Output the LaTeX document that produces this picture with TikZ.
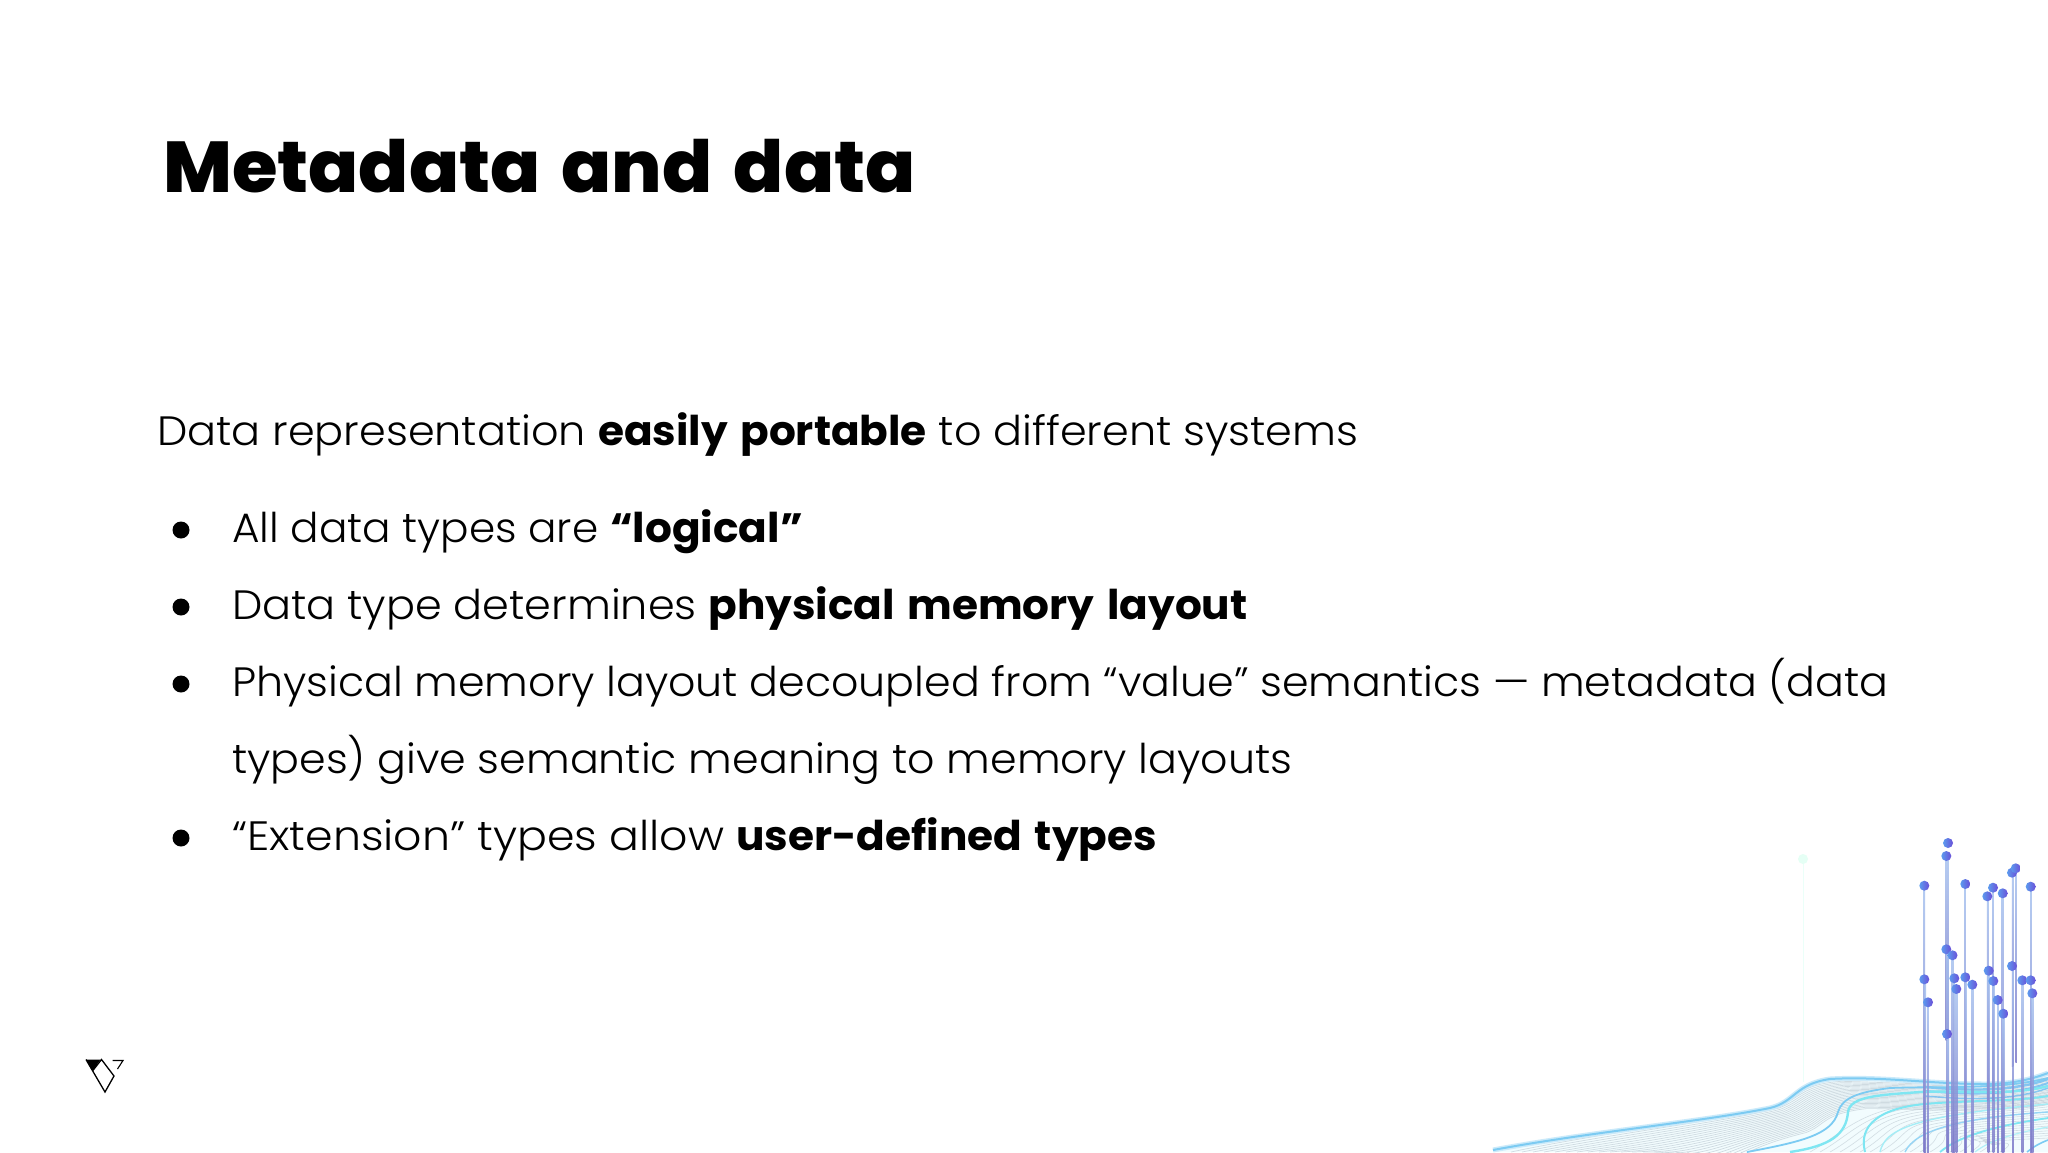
\documentclass[tikz,border=0pt]{standalone}
\usepackage{fontspec}
\usepackage{graphicx}
\setmainfont{Poppins}[UprightFont=* Light,BoldFont=* Bold,UprightFeatures={FakeStretch=1.048},BoldFeatures={FakeStretch=1.03,WordSpace=1.4}]
\newfontfamily\titlefont{Poppins ExtraBold}[FakeStretch=1.025,WordSpace=1.5]
\definecolor{wavesky}{HTML}{7CCBF2}
\definecolor{waveblue}{HTML}{5FB8F4}
\definecolor{wavecyan}{HTML}{7FE6F2}
\definecolor{wavegrey}{HTML}{C4D0D8}
\definecolor{ballleft}{HTML}{5C9BEE}
\definecolor{ballright}{HTML}{6A4FD8}
\definecolor{pintop}{HTML}{A9C4F0}
\definecolor{pinlow}{HTML}{7C78C8}
\tikzset{
  x=1pt,y=-1pt,
  bodytext/.style={anchor=base west,inner sep=0pt,font=\fontsize{41}{41}\selectfont,text=black},
  bulletmark/.style={circle,fill=black,inner sep=0pt,minimum size=17pt},
  titletext/.style={anchor=base west,inner sep=0pt,font=\fontsize{72}{72}\titlefont,text=black}
}
\newcommand{\fitrun}[2]{\scalebox{#1}[1]{#2}}
\newcommand{\pinball}[2]{\shade[left color=ballleft,right color=ballright] (#1,#2) circle (5pt);}
\newcommand{\pinline}[4]{\shade[top color=pintop,bottom color=pinlow,opacity=.85] ({#1-#4/2},#2) rectangle ({#1+#4/2},#3);}
\begin{document}
\begin{tikzpicture}
\useasboundingbox (0,0) rectangle (2048,1152);
\fill[white] (0,0) rectangle (2048,1152);
\node[titletext] (title) at (163,192) {Metadata and data};
\node[bodytext] (intro) at (157,445) {Data representation \textbf{easily portable} to different systems};
\node[bulletmark] (b1) at (181,530) {};
\node[bulletmark] (b2) at (181,607) {};
\node[bulletmark] (b3) at (181,684) {};
\node[bulletmark] (b4) at (181,838) {};
\node[bodytext] (t1) at (232,542) {\fitrun{0.982}{All data types are }\textbf{“logical”}};
\node[bodytext] (t2) at (232,619) {Data type determines \textbf{physical memory layout}};
\node[bodytext] (t3) at (232,696) {\fitrun{0.9945}{Physical memory layout decoupled from “value” semantics — metadata (data}};
\node[bodytext] (t3b) at (232,773) {\fitrun{0.995}{types) give semantic meaning to memory layouts}};
\node[bodytext] (t4) at (232,850) {\fitrun{1.03}{“Extension” types allow }\textbf{user-defined types}};
% logo
\fill[black] (86,1059.5) -- (100.5,1059.5) -- (92.5,1071) -- cycle;
\draw[black,line width=1.3pt,line join=miter] (86,1059.5) -- (105,1092) -- (114,1076) -- (101.5,1059.5) -- (92.5,1071);
\draw[black,line width=1.1pt] (112.5,1060.5) -- (123,1060.5) -- (117.5,1069);
% faint pin
\draw[green!30!cyan!8,line width=1pt] (1803,860) -- (1803,1082);
\fill[green!40!cyan!10] (1803,859) circle (5pt);
% soft fill under the wave
\fill[wavecyan!10] (1493,1152) .. controls (1590,1132) and (1700,1122) .. (1770,1108)
  .. controls (1795,1102) and (1795,1084) .. (1830,1079)
  .. controls (1880,1076) and (1930,1084) .. (1985,1084)
  .. controls (2010,1084) and (2030,1080) .. (2048,1073) -- (2048,1152) -- cycle;
% waves: grey contour family
\foreach \i in {1,...,22}{
  \draw[wavegrey,line width=0.7pt,opacity=.75]
    (1500+11*\i,1152) .. controls (1600+6*\i,{1130+1.8*\i}) and (1730,{1116+1.6*\i}) .. (1775+1.4*\i,{1104+1.3*\i})
    .. controls (1800+1.2*\i,{1094+1.4*\i}) and (1800+1*\i,{1083+1.4*\i}) .. (1840+1.2*\i,{1080+1.3*\i})
    .. controls (1920,{1082+1.2*\i}) and (1990,{1088+1.2*\i}) .. (2048,{1076+1.3*\i});
}
% waves: bottom grey contours on the right
\foreach \i in {1,...,20}{
  \draw[wavegrey,line width=0.6pt,opacity=.7]
    (1800+10*\i,1152) .. controls (1830+10*\i,{1135}) and (1850+6*\i,{1112+1.8*\i}) .. (1900+5*\i,{1104+2*\i})
    .. controls (1960,{1098+2.2*\i}) and (2010,{1096+2.2*\i}) .. (2048,{1090+2.4*\i});
}
% waves: bright curves
\draw[wavesky!40,line width=5pt] (1493,1150) .. controls (1590,1132) and (1700,1122) .. (1770,1108)
  .. controls (1795,1102) and (1795,1084) .. (1830,1079)
  .. controls (1880,1076) and (1930,1084) .. (1985,1084)
  .. controls (2010,1084) and (2030,1080) .. (2048,1073);
\draw[wavesky,line width=2pt] (1493,1150) .. controls (1590,1132) and (1700,1122) .. (1770,1108)
  .. controls (1795,1102) and (1795,1084) .. (1830,1079)
  .. controls (1880,1076) and (1930,1084) .. (1985,1084)
  .. controls (2010,1084) and (2030,1080) .. (2048,1073);
\foreach \d/\w in {3/2.4,7/2,12/1.4}{
  \draw[waveblue,line width=\w pt,opacity=.7] (1925,1084+\d) .. controls (1960,1087+\d) and (2010,1090+\d) .. (2048,1076+\d);
}
\draw[wavesky,line width=1.8pt] (1747,1152) .. controls (1800,1142) and (1832,1135) .. (1838,1112)
  .. controls (1842,1098) and (1858,1092) .. (1890,1088)
  .. controls (1940,1086) and (2000,1090) .. (2048,1078);
\draw[wavecyan,line width=2.4pt] (1790,1152) .. controls (1830,1146) and (1846,1135) .. (1848,1112)
  .. controls (1850,1096) and (1880,1095) .. (1920,1092)
  .. controls (1970,1090) and (2010,1096) .. (2048,1086);
\draw[wavecyan,line width=2pt] (1865,1152) .. controls (1858,1125) and (1880,1108) .. (1925,1104)
  .. controls (1970,1100) and (2010,1102) .. (2048,1096);
\draw[wavecyan!70,line width=1.4pt] (1880,1152) .. controls (1885,1130) and (1910,1116) .. (2048,1104);
\draw[wavesky!80,line width=1.4pt] (1905,1152) .. controls (1915,1130) and (1960,1118) .. (2048,1112);
\draw[wavecyan,line width=1.8pt] (1940,1152) .. controls (1960,1135) and (2000,1125) .. (2048,1118);
\draw[wavecyan!60,line width=1.2pt] (1975,1152) .. controls (1990,1140) and (2015,1133) .. (2048,1127);
\draw[wavesky,line width=1.6pt] (2027,1152) .. controls (2033,1147) and (2040,1143) .. (2048,1140);
% pin lines
\pinline{1924.3}{886}{1152}{1.6}
\pinline{1925}{979}{1152}{2.2}
\pinline{1928}{1002}{1152}{1.6}
\pinline{1947}{856}{1040}{2.6}
\pinline{1947.5}{949}{1152}{2}
\pinline{1948}{1034}{1152}{2}
\pinline{1952.5}{955}{1152}{1.6}
\pinline{1954}{978}{1152}{1.6}
\pinline{1956.5}{989}{1152}{1.6}
\pinline{1965}{884}{1152}{1.8}
\pinline{1966}{977}{1152}{1.8}
\pinline{1972.5}{985}{1152}{2}
\pinline{1987.5}{896}{1100}{1.5}
\pinline{1988.5}{971}{1152}{1.8}
\pinline{1993}{888}{1100}{1.5}
\pinline{1993.5}{981}{1152}{1.8}
\pinline{1998}{1000}{1152}{1.6}
\pinline{2002.5}{893}{1152}{1.6}
\pinline{2003.5}{1014}{1152}{1.6}
\pinline{2012.5}{873}{1066}{1.5}
\pinline{2016}{868}{1062}{1.5}
\pinline{2013}{966}{1152}{1.6}
\pinline{2022.5}{980}{1152}{1.6}
\pinline{2031}{887}{1152}{1.8}
\pinline{2032.5}{993}{1152}{2}
% pin balls
\foreach \px/\py in {1924.3/885.7,1924.3/979.3,1928/1002.3,1948/843,1946.3/856,1946.3/949.3,1952.5/955.3,1954.3/978.3,1956.3/989,1947/1034,1965.3/884,1965.3/977.3,1972.3/984.7,1987.3/896.3,1988.7/970.7,1993/887.7,1993.3/981,1997.7/1000,2002.7/893.3,2003.3/1013.7,2012/872.7,2015.7/868.3,2012/966,2022.3/980.3,2030.7/886.7,2030.7/980.3,2032.3/993.3}{
  \pinball{\px}{\py}
}
\end{tikzpicture}
\end{document}
